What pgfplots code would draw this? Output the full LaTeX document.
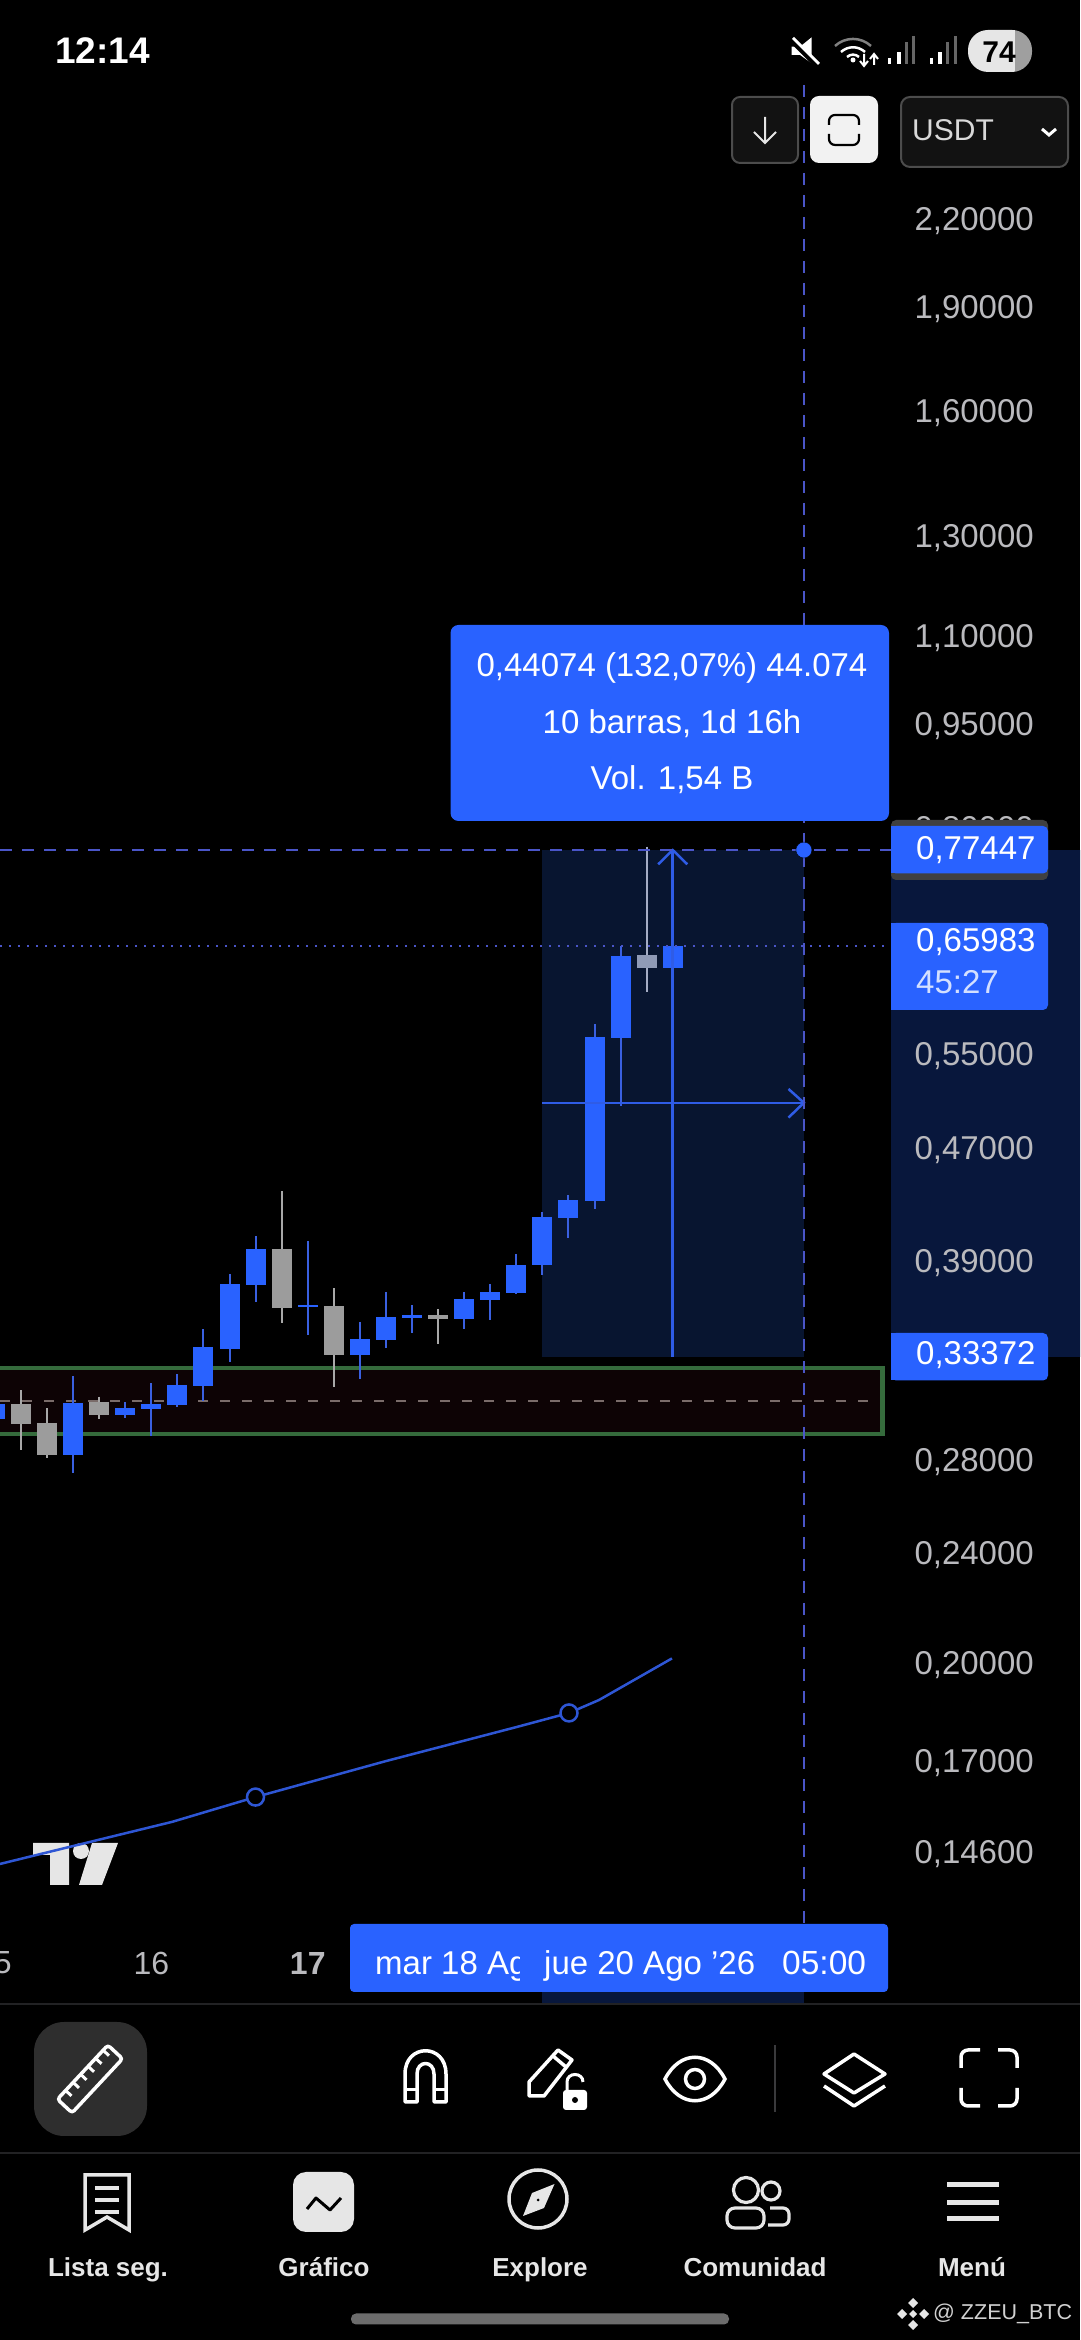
\documentclass[border=0pt]{standalone}
\usepackage{pgfplots}
\pgfplotsset{compat=1.18}
\usepackage{fontspec}
\setmainfont{Liberation Sans}
\definecolor{cblue}{HTML}{2962FF}
\definecolor{cbluew}{HTML}{3A60E0}
\definecolor{cgray}{HTML}{9C9C9C}
\definecolor{cgrayw}{HTML}{A8A8A8}
\definecolor{cmeas}{HTML}{8F9AB6}
\definecolor{cmeasw}{HTML}{A4ACC4}
\definecolor{cmrect}{HTML}{081530}
\definecolor{cband}{HTML}{08173C}
\definecolor{cdash}{HTML}{4A55C8}
\definecolor{carr}{HTML}{2F5CE6}
\definecolor{cma}{HTML}{2E56D4}
\definecolor{ggreen}{HTML}{356B3C}
\definecolor{gfill}{HTML}{0D0305}
\definecolor{gmid}{HTML}{7A6C6A}
\definecolor{clab}{HTML}{BABABE}
\definecolor{csep}{HTML}{222224}
\definecolor{cdiv}{HTML}{3A3A3C}
\definecolor{cwh}{HTML}{E6E6E6}
\newcommand{\fs}[1]{\fontsize{#1}{#1}\selectfont}
\newcommand{\candle}[6]{%
  \addplot[color=#6w,line width=2pt,forget plot] coordinates {(#1,#2)(#1,#5)};
  \addplot[color=#6,line width=20pt,forget plot] coordinates {(#1,#3)(#1,#4)};
}
\begin{document}
\begin{tikzpicture}[line cap=butt]
\useasboundingbox (0,0) rectangle (1080pt,2340pt);
\fill[black] (0,0) rectangle (1080pt,2340pt);
\begin{scope}[x=1pt,y=-1pt,yshift=2340pt]
  % watermark logo under the line
  \fill[cwh] (33,1843) -- (69,1843) -- (69,1885) -- (50,1885) -- (50,1855) -- (33,1855) -- cycle;
  \fill[cwh] (81,1851) circle (8pt);
  \fill[cwh] (92,1843) -- (118,1843) -- (102,1885) -- (79,1885) -- cycle;
\end{scope}
\begin{axis}[
  at={(0,0)},anchor=south west,scale only axis,width=1080pt,height=2340pt,
  axis on top,
  ymode=log,xmin=-0.8055,xmax=40.6216,ymin=0.06523,ymax=3.177,
  axis line style={draw=none},major tick style={draw=none},minor tick style={draw=none},
  major tick length=0pt,
  ytick={2.2,1.9,1.6,1.3,1.1,0.95,0.8,0.55,0.47,0.39,0.28,0.24,0.20,0.17,0.146},
  yticklabels={{2,20000},{1,90000},{1,60000},{1,30000},{1,10000},{0,95000},{0,80000},{0,55000},{0,47000},{0,39000},{0,28000},{0,24000},{0,20000},{0,17000},{0,14600}},
  yticklabel pos=right,
  yticklabel style={font=\fs{33},text=clab,anchor=east,xshift=-46pt,yshift=3pt,inner sep=0pt,text height=24pt,text depth=0pt},
  minor ytick={},
  xtick={5,11},
  xticklabels={16,\textbf{17}},
  xticklabel style={font=\fs{32},text=clab,anchor=center,yshift=377pt,inner sep=0pt,text height=23pt,text depth=0pt},
]
% price-scale band
\addplot[fill=cband,draw=none,forget plot] coordinates {(33.37,0.77447)(40.7,0.77447)(40.7,0.33372)(33.37,0.33372)} -- cycle;
% green zone
\addplot[fill=gfill,draw=ggreen,line width=4.5pt,forget plot] coordinates {(-2,0.3277)(33.05,0.3277)(33.05,0.2937)(-2,0.2937)} -- cycle;
\addplot[color=gmid,line width=1.8pt,dash pattern=on 10pt off 12pt,forget plot] coordinates {(-0.8,0.3102)(32.7,0.3102)};
% measuring rectangle
\addplot[fill=cmrect,draw=none,forget plot] coordinates {(20,0.77447)(30.03,0.77447)(30.03,0.33372)(20,0.33372)} -- cycle;
% candles: x, high, body top, body bottom, low
\candle{-1}{0.312}{0.3087}{0.3011}{0.298}{cblue}
\candle{0}{0.3159}{0.3087}{0.2986}{0.2860}{cgray}
\candle{1}{0.3065}{0.2991}{0.2836}{0.2823}{cgray}
\candle{2}{0.3233}{0.3092}{0.2836}{0.2754}{cblue}
\candle{3}{0.3124}{0.3097}{0.3031}{0.3011}{cgray}
\candle{4}{0.3097}{0.3066}{0.3031}{0.3016}{cblue}
\candle{5}{0.3196}{0.3087}{0.3061}{0.2927}{cblue}
\candle{6}{0.3244}{0.3186}{0.3082}{0.3073}{cblue}
\candle{7}{0.3496}{0.3393}{0.3180}{0.3102}{cblue}
\candle{8}{0.3830}{0.3767}{0.3382}{0.3311}{cblue}
\candle{9}{0.4080}{0.3993}{0.3761}{0.3656}{cblue}
\candle{10}{0.4396}{0.3993}{0.3620}{0.3531}{cgray}
\candle{11}{0.4046}{0.3638}{0.3626}{0.3461}{cblue}
\candle{12}{0.3742}{0.3632}{0.3348}{0.3175}{cgray}
\candle{13}{0.3537}{0.3438}{0.3348}{0.3217}{cblue}
\candle{14}{0.3718}{0.3566}{0.3433}{0.3387}{cblue}
\candle{15}{0.3638}{0.3578}{0.3561}{0.3473}{cblue}
\candle{16}{0.3614}{0.3578}{0.3554}{0.3410}{cgray}
\candle{17}{0.3718}{0.3675}{0.3554}{0.3496}{cblue}
\candle{18}{0.3767}{0.3718}{0.3669}{0.3549}{cblue}
\candle{19}{0.3960}{0.3888}{0.3712}{0.3705}{cblue}
\candle{20}{0.4242}{0.4211}{0.3888}{0.3827}{cblue}
\candle{21}{0.4367}{0.4331}{0.4204}{0.4066}{cblue}
\candle{22}{0.5801}{0.5675}{0.4324}{0.4269}{cblue}
\candle{23}{0.65983}{0.6495}{0.5671}{0.5063}{cblue}
\candle{24}{0.7788}{0.6506}{0.6371}{0.6118}{cmeas}
\candle{25}{0.6964}{0.65983}{0.6371}{0.5909}{cblue}
% moving average
\addplot[color=cma,line width=2.5pt,forget plot] coordinates {(-0.806,0.1438)(1.84,0.1479)(5.79,0.1542)(8.995,0.1607)(14.0,0.1706)(19.0,0.1805)(21.02,0.1848)(22.17,0.1888)(24.97,0.2023)};
\addplot[only marks,mark=*,mark size=8.5pt,mark options={fill=black,draw=cma,line width=2.5pt},forget plot] coordinates {(8.995,0.1607)(21.02,0.1848)};
% measuring arrows
\addplot[color=carr,line width=2.5pt,forget plot] coordinates {(25,0.33372)(25,0.77447)};
\addplot[color=carr,line width=2.5pt,forget plot] coordinates {(24.44,0.7563)(25,0.77447)(25.56,0.7563)};
\addplot[color=carr,line width=2.5pt,forget plot] coordinates {(20,0.5090)(30.03,0.5090)};
\addplot[color=carr,line width=2.5pt,forget plot] coordinates {(29.44,0.5208)(30.03,0.5090)(29.44,0.4966)};
% crosshair and price lines
\addplot[color=cdash,line width=2.5pt,dash pattern=on 12pt off 10pt,forget plot] coordinates {(30.03,2.759)(30.03,0.1302)};
\addplot[color=cdash,line width=2pt,dash pattern=on 12pt off 10pt,forget plot] coordinates {(-0.8,0.77447)(33.37,0.77447)};
\addplot[color=cdash,line width=2pt,dash pattern=on 2pt off 7pt,forget plot] coordinates {(-0.8,0.65983)(33.37,0.65983)};
\addplot[only marks,mark=*,mark size=8pt,mark options={fill=cblue,draw=none},forget plot] coordinates {(30.03,0.77447)};
\end{axis}
\begin{scope}[x=1pt,y=-1pt,yshift=2340pt]
  % clipped tick label
  \begin{scope}
    \clip (0,1935) rectangle (40,1995);
    \node[anchor=east,inner sep=0pt,text=clab,font=\fs{32}] at (12,1963) {15};
  \end{scope}
  % tooltip
  \fill[cblue,rounded corners=8pt] (450.5,625) rectangle (889,821);
  \node[text=white,font=\fs{33}] at (672,668) {0,44074 (132,07\%) 44.074};
  \node[text=white,font=\fs{33}] at (672,724) {10 barras, 1d 16h};
  \node[text=white,font=\fs{33}] at (672,780) {Vol. 1,54 B};
  % price tags
  \fill[black!75!white,rounded corners=5pt] (891,820) rectangle (1048,880);
  \fill[cblue,rounded corners=5pt] (891,826) rectangle (1048,873.5);
  \fill[cblue] (891,826) rectangle (900,873.5);
  \node[anchor=west,inner sep=0pt,text=white,font=\fs{33}] at (916,850) {0,77447};
  \fill[cblue,rounded corners=5pt] (891,923) rectangle (1048,1010);
  \fill[cblue] (891,923) rectangle (900,1010);
  \node[anchor=west,inner sep=0pt,text=white,font=\fs{33}] at (916,942) {0,65983};
  \node[anchor=west,inner sep=0pt,text=white!80!cblue,font=\fs{33}] at (916,982) {45:27};
  \fill[cblue,rounded corners=5pt] (891,1333) rectangle (1048,1380.5);
  \fill[cblue] (891,1333) rectangle (900,1380.5);
  \node[anchor=west,inner sep=0pt,text=white,font=\fs{33}] at (916,1355) {0,33372};
  % date axis
  \fill[cband] (542,1990) rectangle (804,2003);
  \fill[cblue,rounded corners=4pt] (350,1924) rectangle (888,1992);
  \begin{scope}
    \clip (350,1924) rectangle (519,1992);
    \node[anchor=base west,inner sep=0pt,text=white,font=\fs{33}] at (375,1975) {mar 18 Ag};
  \end{scope}
  \node[anchor=base west,inner sep=0pt,text=white,font=\fs{33}] at (544,1975) {jue 20 Ago \symbol{39}26};
  \node[anchor=base west,inner sep=0pt,text=white,font=\fs{33.5}] at (782,1975) {05:00};
  \draw[color=csep,line width=2.5pt] (0,2004) -- (1080,2004);
  \draw[color=csep,line width=2.5pt] (0,2153) -- (1080,2153);
  % status bar
  \node[anchor=west,inner sep=0pt,text=white,font=\fs{37}\bfseries] at (55,51) {12:14};
  \fill[white] (791.7,46.7) -- (800,46.7) -- (811.7,37.3) -- (811.7,63.3) -- (800,55) -- (791.7,55) -- cycle;
  \draw[black,line width=5pt] (791,40) -- (817,66);
  \draw[white,line width=2.8pt] (793,38) -- (819,64);
  \draw[gray,line width=2.5pt] (835,46) to[bend left=42] (871,46);
  \draw[white,line width=2.5pt] (841,52) to[bend left=42] (865,52);
  \draw[white,line width=2.5pt] (847,57) to[bend left=42] (859,57);
  \fill[white] (853,60) circle (2.5pt);
  \draw[white,line width=2pt] (864,54) -- (864,65) (860,61) -- (864,66) -- (868,61);
  \draw[white,line width=2pt] (874,65) -- (874,55) (870,59) -- (874,54) -- (878,59);
  \fill[white] (888,58) rectangle (891,64.5);
  \fill[white] (897,52) rectangle (900.5,64.5);
  \fill[gray!80!black] (905,42) rectangle (908,64.5);
  \fill[gray!80!black] (912,36) rectangle (915,64.5);
  \fill[white] (930,58) rectangle (933,64.5);
  \fill[white] (938,52) rectangle (941.5,64.5);
  \fill[gray!80!black] (946,42) rectangle (949,64.5);
  \fill[gray!80!black] (954,36) rectangle (957,64.5);
  \begin{scope}
    \clip (968,30) rectangle (1015,72);
    \fill[cwh,rounded corners=20pt] (968,30) rectangle (1032,72);
  \end{scope}
  \begin{scope}
    \clip (1015,30) rectangle (1032,72);
    \fill[gray!75!white,rounded corners=20pt] (968,30) rectangle (1032,72);
  \end{scope}
  \node[text=black,font=\fs{30}\bfseries,inner sep=0pt] at (999,52) {74};
  % top-right buttons
  \draw[fill=black!93!white,draw=black!70!white,line width=2pt,rounded corners=8pt] (732,97) rectangle (798,163);
  \draw[cwh,line width=2pt] (765,117) -- (765,143) (754,132) -- (765,143) -- (776,132);
  \fill[white!95!black,rounded corners=9pt] (810,96) rectangle (878,163);
  \draw[black,line width=2.2pt,rounded corners=6pt] (829,125) -- (829,115) -- (859,115) -- (859,125);
  \draw[black,line width=2.2pt,rounded corners=6pt] (829,134) -- (829,145) -- (859,145) -- (859,134);
  \draw[fill=black!93!white,draw=black!70!white,line width=2pt,rounded corners=9pt] (901,97) rectangle (1068,167);
  \node[anchor=west,inner sep=0pt,text=white!85!black,font=\fs{30}] at (912,130) {USDT};
  \draw[white,line width=3pt] (1042,129) -- (1049,135) -- (1056,129);
  % tool bar
  \fill[black!82!white,rounded corners=30pt] (34,2022) rectangle (147,2136);
  \begin{scope}[shift={(90,2079)},rotate=47]
    \draw[white,line width=3.5pt,rounded corners=3pt] (-37pt,-10pt) rectangle (37pt,10pt);
    \foreach \u in {-25,-14,-3,8,19,30} \draw[white,line width=3pt] (\u pt,10pt) -- (\u pt,2pt);
  \end{scope}
  \draw[white,line width=3.5pt,line join=round] (405,2102) -- (405,2074) .. controls (405,2043) and (446,2043) .. (446,2074) -- (446,2102) -- (434,2102) -- (434,2074) .. controls (434,2060) and (417,2060) .. (417,2074) -- (417,2102) -- cycle;
  \draw[white,line width=3pt] (405,2090) -- (417,2090) (434,2090) -- (446,2090);
  \draw[white,line width=3.5pt,line join=round] (529,2096) -- (529,2082) -- (558,2050) -- (572,2060) -- (544,2096) -- cycle (553,2056) -- (566,2067);
  \fill[white,rounded corners=3pt] (563,2090) rectangle (587,2110);
  \fill[black] (575,2100) circle (3pt);
  \draw[white,line width=3pt] (567,2090) -- (567,2082) .. controls (567,2072) and (583,2072) .. (583,2082);
  \draw[white,line width=3.5pt] (665,2079) .. controls (680,2050) and (710,2050) .. (725,2079) .. controls (710,2108) and (680,2108) .. (665,2079) -- cycle;
  \draw[white,line width=3.5pt] (695,2079) circle (9.5pt);
  \draw[color=cdiv,line width=2pt] (775,2045) -- (775,2112);
  \draw[white,line width=3.5pt,line join=round] (854,2054) -- (885,2074) -- (854,2093) -- (824,2074) -- cycle;
  \draw[white,line width=3.5pt,line join=round] (824,2086) -- (854,2106) -- (885,2086);
  \draw[white,line width=3.5pt,rounded corners=7pt] (961,2068) -- (961,2050) -- (980,2050);
  \draw[white,line width=3.5pt,rounded corners=7pt] (998,2050) -- (1017,2050) -- (1017,2068);
  \draw[white,line width=3.5pt,rounded corners=7pt] (961,2088) -- (961,2106) -- (980,2106);
  \draw[white,line width=3.5pt,rounded corners=7pt] (998,2106) -- (1017,2106) -- (1017,2088);
  % navigation bar
  \draw[cwh,line width=3.5pt,line join=miter] (85,2175) -- (129,2175) -- (129,2230) -- (107,2217) -- (85,2230) -- cycle;
  \draw[cwh,line width=3.5pt] (95,2188) -- (119,2188) (95,2200) -- (119,2200) (95,2212) -- (119,2212);
  \fill[cwh,rounded corners=13pt] (293,2172) rectangle (354,2232);
  \draw[black,line width=3pt,line join=round] (307,2209) -- (316,2198) -- (330,2210) -- (341,2198);
  \draw[cwh,line width=3.5pt] (538,2199) circle (29pt);
  \fill[cwh] (554.5,2184) -- (544,2208) -- (523,2216) -- (532,2193) -- cycle;
  \fill[black] (538,2200) circle (1.5pt);
  \draw[cwh,line width=3.2pt] (746,2190) circle (12.5pt);
  \draw[cwh,line width=3.2pt] (771,2191) circle (9pt);
  \draw[cwh,line width=3.2pt,rounded corners=8pt] (727,2228) -- (727,2208) -- (764,2208) -- (764,2228) -- cycle;
  \draw[cwh,line width=3.2pt,rounded corners=6pt] (770,2208) -- (789,2208) -- (789,2225) -- (768,2225);
  \fill[cwh] (947,2182.5) rectangle (999,2187.5);
  \fill[cwh] (947,2200.5) rectangle (999,2205.5);
  \fill[cwh] (947,2216.5) rectangle (999,2221.5);
  \node[anchor=base,text=cwh,font=\fs{26}\bfseries,inner sep=0pt] at (108,2277) {Lista seg.};
  \node[anchor=base,text=cwh,font=\fs{26}\bfseries,inner sep=0pt] at (324,2277) {Gráfico};
  \node[anchor=base,text=cwh,font=\fs{26}\bfseries,inner sep=0pt] at (540,2277) {Explore};
  \node[anchor=base,text=cwh,font=\fs{26}\bfseries,inner sep=0pt] at (755,2277) {Comunidad};
  \node[anchor=base,text=cwh,font=\fs{26}\bfseries,inner sep=0pt] at (972,2277) {Menú};
  \fill[gray!85!black,rounded corners=5pt] (351,2313.5) rectangle (729,2324.5);
  \foreach \a/\b in {913/2303,913/2325,902/2314,924/2314} \fill[cwh] (\a,\b-5) -- (\a+5,\b) -- (\a,\b+5) -- (\a-5,\b) -- cycle;
  \fill[cwh] (913,2310) -- (917,2314) -- (913,2318) -- (909,2314) -- cycle;
  \node[anchor=west,inner sep=0pt,text=white!82!black,font=\fs{21.5}] at (933,2314) {@ ZZEU\_BTC};
\end{scope}
\end{tikzpicture}
\end{document}
